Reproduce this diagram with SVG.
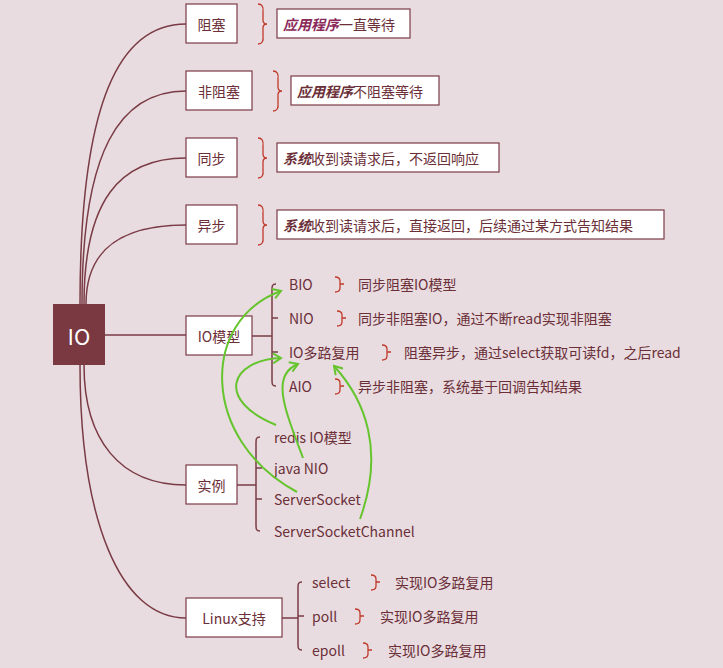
<svg xmlns="http://www.w3.org/2000/svg" width="723" height="668" viewBox="0 0 723 668">
<style>
text{font-family:"Noto Sans CJK SC","Noto Sans",sans-serif;font-size:14px;fill:#6b2f38;dominant-baseline:central}
.b{fill:#fff;stroke:#7a3b45;stroke-width:1.2}
.l{fill:none;stroke:#7a3b45;stroke-width:1.5}
.br{fill:none;stroke:#c0392b;stroke-width:1.3}
.g{fill:none;stroke:#66c42e;stroke-width:2}
.em{font-style:italic;font-weight:bold}
</style>
<defs><marker id="a" markerWidth="12" markerHeight="12" refX="9" refY="6" orient="auto" markerUnits="userSpaceOnUse"><polyline points="1,1 9,6 1,11" fill="none" stroke="#66c42e" stroke-width="2"/></marker></defs>
<rect width="723" height="668" fill="#e8dce0"/>
<g id="connectors">
<path class="l" d="M80,304 C80,100 120,24 186,24"/>
<path class="l" d="M82,304 C82,150 120,91 186,91"/>
<path class="l" d="M84,304 C84,200 120,158 186,158"/>
<path class="l" d="M86,304 C86,250 120,225 186,225"/>
<path class="l" d="M105,335 L186,335"/>
<path class="l" d="M84,365 C84,440 120,485 186,485"/>
<path class="l" d="M80,365 C80,520 120,618 186,618"/>
<path class="l" d="M252,336 H272 M276,284 C272,284 272,286 272,290 V380 C272,384 272,386 276,386 M272,318 H278 M272,352 H278"/>
<path class="l" d="M237,485 H256 M260,437 C256,437 256,439 256,443 V525 C256,529 256,531 260,531 M256,468 H262 M256,499 H262"/>
<path class="l" d="M282,618 H298 M302,582 C298,582 298,584 298,588 V644 C298,648 298,650 302,650 M298,616 H304"/>
</g>
<g id="root"><rect x="53" y="304" width="52" height="61" fill="#7a3840"/><text x="79" y="335" text-anchor="middle" style="fill:#fff;font-size:22px">IO</text></g>
<g id="n1"><rect class="b" x="186" y="4" width="51" height="39"/><text x="211.5" y="24" text-anchor="middle">阻塞</text>
<path class="br" d="M258,4 Q264,4 263,12 L263,20 Q263,24 267,24 Q263,24 263,28 L263,36 Q264,44 258,44"/>
<rect class="b" x="277" y="9" width="133" height="29"/><text x="283" y="24"><tspan class="em" style="fill:#8b2a5a">应用程序</tspan>一直等待</text></g>
<g id="n2"><rect class="b" x="186" y="71" width="66" height="39"/><text x="219" y="91" text-anchor="middle">非阻塞</text>
<path class="br" d="M273,71 Q279,71 278,79 L278,87 Q278,91 282,91 Q278,91 278,95 L278,103 Q279,111 273,111"/>
<rect class="b" x="291" y="76" width="148" height="29"/><text x="297" y="91"><tspan class="em">应用程序</tspan>不阻塞等待</text></g>
<g id="n3"><rect class="b" x="186" y="138" width="51" height="39"/><text x="211.5" y="158" text-anchor="middle">同步</text>
<path class="br" d="M258,138 Q264,138 263,146 L263,154 Q263,158 267,158 Q263,158 263,162 L263,170 Q264,178 258,178"/>
<rect class="b" x="277" y="143" width="222" height="29"/><text x="283" y="158"><tspan class="em">系统</tspan>收到读请求后，不返回响应</text></g>
<g id="n4"><rect class="b" x="186" y="205" width="51" height="39"/><text x="211.5" y="225" text-anchor="middle">异步</text>
<path class="br" d="M258,205 Q264,205 263,213 L263,221 Q263,225 267,225 Q263,225 263,229 L263,237 Q264,245 258,245"/>
<rect class="b" x="277" y="210" width="387" height="29"/><text x="283" y="225"><tspan class="em">系统</tspan>收到读请求后，直接返回，后续通过某方式告知结果</text></g>
<g id="n5"><rect class="b" x="186" y="316" width="66" height="39"/><text x="219" y="336" text-anchor="middle">IO模型</text>
<text x="289" y="284">BIO</text><path class="br" d="M335,277 Q340,277 340,281 L340,284 L344,284 L340,284 L340,288 Q340,292 335,292"/><text x="358" y="284">同步阻塞IO模型</text>
<text x="289" y="318">NIO</text><path class="br" d="M337,311 Q342,311 342,315 L342,318 L346,318 L342,318 L342,322 Q342,326 337,326"/><text x="358" y="318">同步非阻塞IO，通过不断read实现非阻塞</text>
<text x="289" y="352">IO多路复用</text><path class="br" d="M382,345 Q387,345 387,349 L387,352 L391,352 L387,352 L387,356 Q387,360 382,360"/><text x="404" y="352">阻塞异步，通过select获取可读fd，之后read</text>
<text x="289" y="386">AIO</text><path class="br" d="M335,379 Q340,379 340,383 L340,386 L344,386 L340,386 L340,390 Q340,394 335,394"/><text x="358" y="386">异步非阻塞，系统基于回调告知结果</text></g>
<g id="n6"><rect class="b" x="186" y="465" width="51" height="39"/><text x="211.5" y="485" text-anchor="middle">实例</text>
<text x="274" y="437">redis IO模型</text><text x="274" y="468">java NIO</text><text x="274" y="499">ServerSocket</text><text x="274" y="531">ServerSocketChannel</text></g>
<g id="n7"><rect class="b" x="186" y="598" width="96" height="39"/><text x="234" y="618" text-anchor="middle">Linux支持</text>
<text x="312" y="582">select</text><path class="br" d="M371,575 Q376,575 376,579 L376,582 L380,582 L376,582 L376,586 Q376,590 371,590"/><text x="395" y="582">实现IO多路复用</text>
<text x="312" y="616">poll</text><path class="br" d="M355,609 Q360,609 360,613 L360,616 L364,616 L360,616 L360,620 Q360,624 355,624"/><text x="380" y="616">实现IO多路复用</text>
<text x="312" y="650">epoll</text><path class="br" d="M363,643 Q368,643 368,647 L368,650 L372,650 L368,650 L368,654 Q368,658 363,658"/><text x="388" y="650">实现IO多路复用</text></g>
<g id="green">
<path class="g" marker-end="url(#a)" d="M297,492 C200,440 200,320 281,291"/>
<path class="g" marker-end="url(#a)" d="M276,425 C215,400 230,360 281,358"/>
<path class="g" marker-end="url(#a)" d="M303,458 C285,410 270,375 298,364"/>
<path class="g" marker-end="url(#a)" d="M360,519 C385,450 365,400 334,366"/>
</g>
</svg>
